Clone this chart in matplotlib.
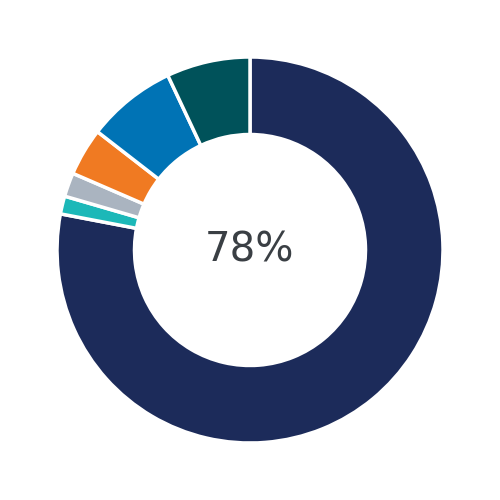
import matplotlib
matplotlib.use("Agg")
import matplotlib.pyplot as plt

labels = ["A", "B", "C", "D", "E", "F"]
values = [78, 1.5, 2, 4, 7.5, 7]
colors = ["#1c2b5a", "#1cb8b8", "#aab4c0", "#f07a22", "#0073b5", "#00525a"]

fig = plt.figure(figsize=(5, 5), dpi=100)
ax = fig.add_axes([0, 0, 1, 1])
ax.pie(values, colors=colors, startangle=90, counterclock=False, radius=0.772,
       wedgeprops=dict(width=0.31, edgecolor="white", linewidth=2.5))
ax.text(0, 0, "78%", ha="center", va="center", fontsize=29, color="#3a3f44")
ax.set_xlim(-1, 1); ax.set_ylim(-1, 1)
ax.set_aspect("equal")
ax.axis("off")
fig.savefig("out.png", dpi=100, facecolor="white")
